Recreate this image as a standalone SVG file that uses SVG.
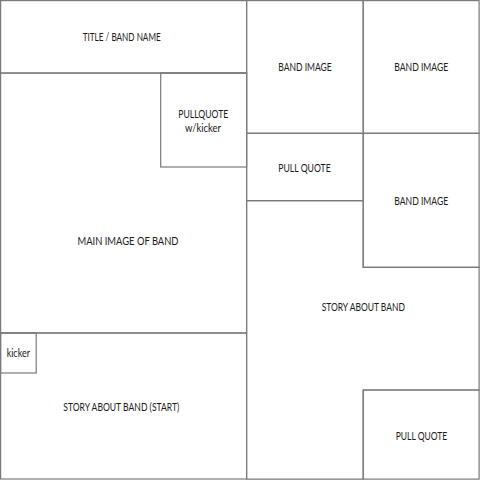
<svg xmlns="http://www.w3.org/2000/svg" width="480" height="480" viewBox="0 0 480 480">
<style>
.b{fill:none;stroke:#7a7a7a;stroke-width:1.2}
.t{font-family:Lato,"Liberation Sans",sans-serif;font-size:10.5px;fill:#1a1a1a;text-anchor:middle;dominant-baseline:central}
</style>
<rect x="0" y="0" width="480" height="480" fill="#ffffff"/>
<g id="title"><rect class="b" x="0.6" y="0.6" width="246" height="72.5"/><text class="t" x="121.7" y="36.5" textLength="78" lengthAdjust="spacingAndGlyphs">TITLE / BAND NAME</text></g>
<g id="main-image"><rect class="b" x="0.6" y="73" width="246" height="260"/><text class="t" x="128" y="240.5" textLength="101" lengthAdjust="spacingAndGlyphs">MAIN IMAGE OF BAND</text></g>
<g id="pullquote-kicker"><rect class="b" x="160.7" y="73" width="85.9" height="94"/><text class="t" x="203.3" y="114" textLength="50" lengthAdjust="spacingAndGlyphs">PULLQUOTE</text><text class="t" x="203" y="127.5" textLength="36" lengthAdjust="spacingAndGlyphs">w/kicker</text></g>
<g id="story-start"><rect class="b" x="0.6" y="333" width="246" height="146"/><text class="t" x="121.3" y="407" textLength="116" lengthAdjust="spacingAndGlyphs">STORY ABOUT BAND (START)</text></g>
<g id="kicker"><rect class="b" x="0.6" y="333" width="35.6" height="40"/><text class="t" x="18.3" y="353" textLength="23.3" lengthAdjust="spacingAndGlyphs">kicker</text></g>
<g id="band-image-1"><rect class="b" x="246.6" y="0.6" width="116.6" height="132.7"/><text class="t" x="305" y="67" textLength="53.5" lengthAdjust="spacingAndGlyphs">BAND IMAGE</text></g>
<g id="band-image-2"><rect class="b" x="363.2" y="0.6" width="115.9" height="132.7"/><text class="t" x="421.3" y="67" textLength="54" lengthAdjust="spacingAndGlyphs">BAND IMAGE</text></g>
<g id="pull-quote-1"><rect class="b" x="246.6" y="133.3" width="116.6" height="67.4"/><text class="t" x="304.5" y="168" textLength="52.4" lengthAdjust="spacingAndGlyphs">PULL QUOTE</text></g>
<g id="band-image-3"><rect class="b" x="363.2" y="133.3" width="115.9" height="134"/><text class="t" x="421.3" y="201" textLength="54" lengthAdjust="spacingAndGlyphs">BAND IMAGE</text></g>
<g id="story"><path class="b" d="M246.6 200.7H363.2V267.3H479.1V390H363.2V479.1H246.6Z"/><text class="t" x="363.3" y="307" textLength="83.3" lengthAdjust="spacingAndGlyphs">STORY ABOUT BAND</text></g>
<g id="pull-quote-2"><rect class="b" x="363.2" y="390" width="115.9" height="89.1"/><text class="t" x="421.5" y="435.5" textLength="51.6" lengthAdjust="spacingAndGlyphs">PULL QUOTE</text></g>
<g id="connectors"></g>
</svg>
